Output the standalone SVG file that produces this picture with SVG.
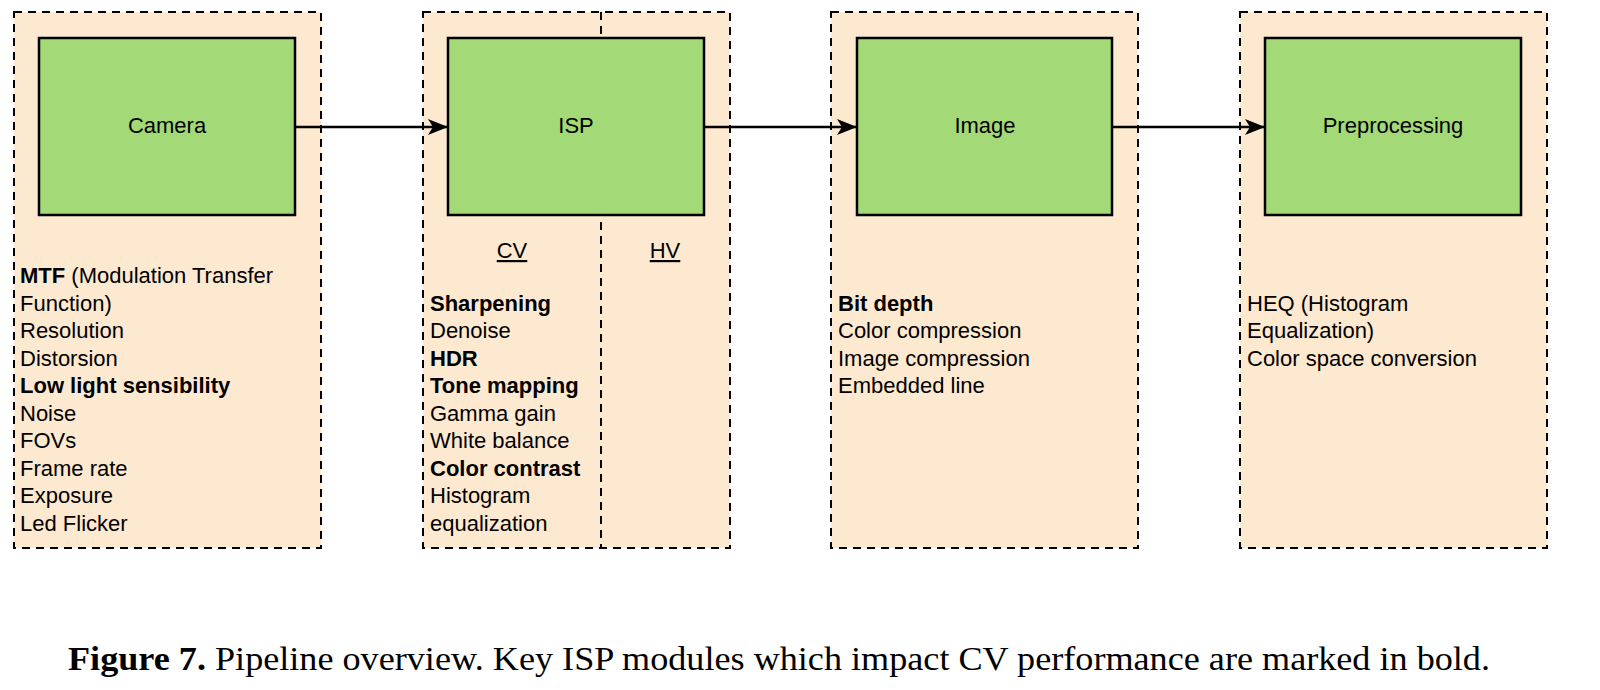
<svg xmlns="http://www.w3.org/2000/svg" width="1600" height="690" viewBox="0 0 1600 690">
<style>
.panel{fill:#fde9d0;stroke:#000;stroke-width:2;stroke-dasharray:8,6}
.box{fill:#a3d977;stroke:#000;stroke-width:2.5}
.lbl{font-family:"Liberation Sans",Arial,sans-serif;font-size:22px;fill:#000}
.t{font-family:"Liberation Sans",Arial,sans-serif;font-size:22px;fill:#000}
.b{font-weight:bold}
.conn{stroke:#000;stroke-width:2.5;fill:none;marker-end:url(#ah)}
</style>
<defs><marker id="ah" markerWidth="20" markerHeight="16" refX="19" refY="8" orient="auto" markerUnits="userSpaceOnUse"><path d="M0,0 L20,8 L0,16 L5,8 Z" fill="#000"/></marker></defs>
<rect width="1600" height="690" fill="#fff"/>
<g id="camera">
<rect class="panel" x="14" y="12" width="307" height="536"/>
<rect class="box" x="39" y="38" width="256" height="177"/>
<text class="lbl" x="167" y="133" text-anchor="middle">Camera</text>
<text class="t" x="20" y="283"><tspan class="b">MTF</tspan> (Modulation Transfer</text>
<text class="t" x="20" y="311">Function)</text>
<text class="t" x="20" y="338">Resolution</text>
<text class="t" x="20" y="366">Distorsion</text>
<text class="t b" x="20" y="393">Low light sensibility</text>
<text class="t" x="20" y="421">Noise</text>
<text class="t" x="20" y="448">FOVs</text>
<text class="t" x="20" y="476">Frame rate</text>
<text class="t" x="20" y="503">Exposure</text>
<text class="t" x="20" y="531">Led Flicker</text>
</g>
<g id="isp">
<rect class="panel" x="423" y="12" width="307" height="536"/>
<line x1="601" y1="12" x2="601" y2="548" stroke="#000" stroke-width="2" stroke-dasharray="8,6"/>
<rect class="box" x="448" y="38" width="256" height="177"/>
<text class="lbl" x="576" y="133" text-anchor="middle">ISP</text>
<text class="t" x="512" y="258" text-anchor="middle" text-decoration="underline">CV</text>
<text class="t" x="665" y="258" text-anchor="middle" text-decoration="underline">HV</text>
<text class="t b" x="430" y="311">Sharpening</text>
<text class="t" x="430" y="338">Denoise</text>
<text class="t b" x="430" y="366">HDR</text>
<text class="t b" x="430" y="393">Tone mapping</text>
<text class="t" x="430" y="421">Gamma gain</text>
<text class="t" x="430" y="448">White balance</text>
<text class="t b" x="430" y="476">Color contrast</text>
<text class="t" x="430" y="503">Histogram</text>
<text class="t" x="430" y="531">equalization</text>
</g>
<g id="image">
<rect class="panel" x="831" y="12" width="307" height="536"/>
<rect class="box" x="857" y="38" width="255" height="177"/>
<text class="lbl" x="985" y="133" text-anchor="middle">Image</text>
<text class="t b" x="838" y="311">Bit depth</text>
<text class="t" x="838" y="338">Color compression</text>
<text class="t" x="838" y="366">Image compression</text>
<text class="t" x="838" y="393">Embedded line</text>
</g>
<g id="preprocessing">
<rect class="panel" x="1240" y="12" width="307" height="536"/>
<rect class="box" x="1265" y="38" width="256" height="177"/>
<text class="lbl" x="1393" y="133" text-anchor="middle">Preprocessing</text>
<text class="t" x="1247" y="311">HEQ (Histogram</text>
<text class="t" x="1247" y="338">Equalization)</text>
<text class="t" x="1247" y="366">Color space conversion</text>
</g>
<g id="connectors">
<line class="conn" x1="295" y1="127" x2="447" y2="127"/>
<line class="conn" x1="704" y1="127" x2="856" y2="127"/>
<line class="conn" x1="1112" y1="127" x2="1264" y2="127"/>
</g>
<text x="68" y="670" textLength="1422" lengthAdjust="spacingAndGlyphs" font-family="'Liberation Serif','Times New Roman',serif" font-size="33"><tspan font-weight="bold">Figure 7.</tspan> Pipeline overview. Key ISP modules which impact CV performance are marked in bold.</text>
</svg>
